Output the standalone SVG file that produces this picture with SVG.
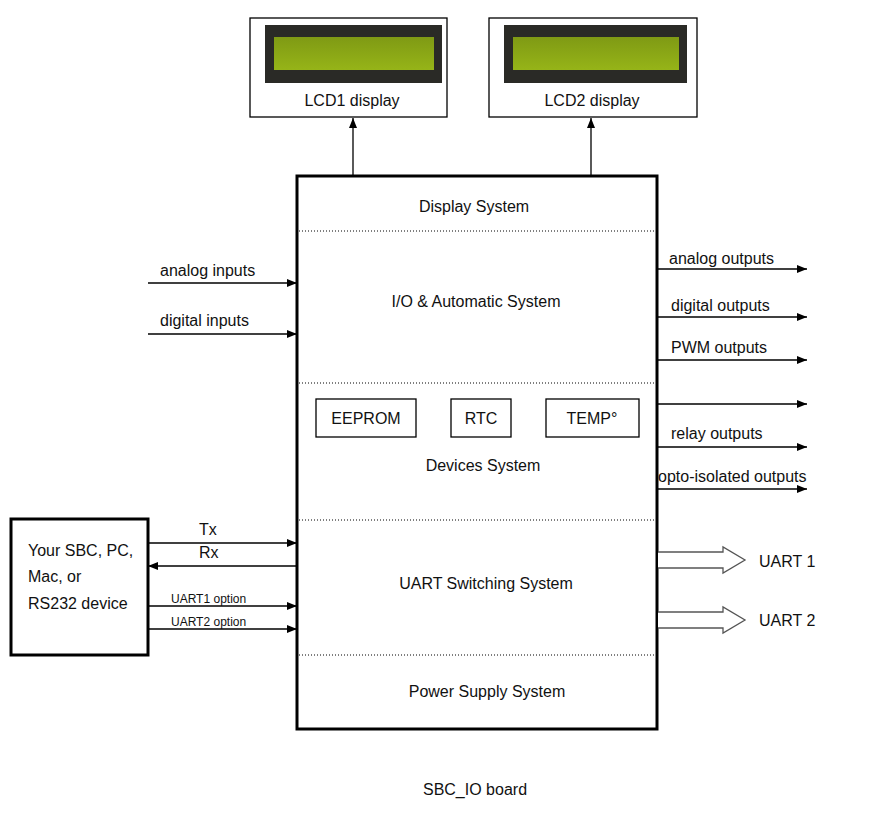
<svg xmlns="http://www.w3.org/2000/svg" width="876" height="825" viewBox="0 0 876 825">
<style>
text{font-family:"Liberation Sans",Arial,sans-serif;font-size:16px;fill:#111}
.s{font-size:12px}
.c{text-anchor:middle}
.ln{stroke:#000;stroke-width:1.3;fill:none}
.dot{stroke:#000;stroke-width:1;stroke-dasharray:1,2}
.box{fill:#fff;stroke:#000}
</style>
<defs>
<marker id="a" markerWidth="10" markerHeight="8" refX="10" refY="4" orient="auto" markerUnits="userSpaceOnUse"><path d="M0,0L10,4L0,8z" fill="#000"/></marker>
<linearGradient id="lcd" x1="0" y1="0" x2="0" y2="1"><stop offset="0" stop-color="#7f9a14"/><stop offset="1" stop-color="#96b418"/></linearGradient>
</defs>
<rect width="876" height="825" fill="#fff"/>
<g id="lcd1">
<rect class="box" x="250" y="18" width="197" height="99" stroke-width="1.3"/>
<rect x="265" y="25" width="177" height="58" fill="#2a2a26"/>
<rect x="274" y="37" width="160" height="33" fill="url(#lcd)"/>
<text class="c" x="352" y="106">LCD1 display</text>
</g>
<g id="lcd2">
<rect class="box" x="489" y="18" width="208" height="99" stroke-width="1.3"/>
<rect x="504" y="25" width="183" height="58" fill="#2a2a26"/>
<rect x="513" y="37" width="166" height="33" fill="url(#lcd)"/>
<text class="c" x="592" y="106">LCD2 display</text>
</g>
<g id="board">
<rect class="box" x="297" y="176" width="360" height="553" stroke-width="3"/>
<line class="dot" x1="299" y1="231" x2="655" y2="231"/>
<line class="dot" x1="299" y1="383" x2="655" y2="383"/>
<line class="dot" x1="299" y1="520" x2="655" y2="520"/>
<line class="dot" x1="299" y1="655" x2="655" y2="655"/>
<text class="c" x="474" y="212">Display System</text>
<text class="c" x="476" y="307">I/O &amp; Automatic  System</text>
<text class="c" x="483" y="471">Devices System</text>
<text class="c" x="486" y="589">UART Switching System</text>
<text class="c" x="487" y="697">Power Supply System</text>
</g>
<g id="eeprom"><rect class="box" x="316" y="399" width="100" height="38" stroke-width="1.3"/><text class="c" x="366" y="424">EEPROM</text></g>
<g id="rtc"><rect class="box" x="451" y="399" width="60" height="38" stroke-width="1.3"/><text class="c" x="481" y="424">RTC</text></g>
<g id="temp"><rect class="box" x="546" y="399" width="93" height="38" stroke-width="1.3"/><text class="c" x="592" y="424">TEMP°</text></g>
<g id="sbc">
<rect class="box" x="11" y="519" width="137" height="136" stroke-width="3"/>
<text x="28" y="556">Your SBC, PC,</text>
<text x="28" y="582">Mac, or</text>
<text x="28" y="609">RS232 device</text>
</g>
<g id="connectors">
<line class="ln" x1="353" y1="175" x2="353" y2="118" marker-end="url(#a)"/>
<line class="ln" x1="591" y1="175" x2="591" y2="118" marker-end="url(#a)"/>
<line class="ln" x1="148" y1="283" x2="297" y2="283" marker-end="url(#a)"/>
<line class="ln" x1="148" y1="334" x2="297" y2="334" marker-end="url(#a)"/>
<line class="ln" x1="148" y1="543" x2="297" y2="543" marker-end="url(#a)"/>
<line class="ln" x1="297" y1="566" x2="148" y2="566" marker-end="url(#a)"/>
<line class="ln" x1="148" y1="606" x2="297" y2="606" marker-end="url(#a)"/>
<line class="ln" x1="148" y1="629" x2="297" y2="629" marker-end="url(#a)"/>
<line class="ln" x1="658" y1="269" x2="807" y2="269" marker-end="url(#a)"/>
<line class="ln" x1="658" y1="317" x2="807" y2="317" marker-end="url(#a)"/>
<line class="ln" x1="658" y1="360" x2="807" y2="360" marker-end="url(#a)"/>
<line class="ln" x1="658" y1="404" x2="807" y2="404" marker-end="url(#a)"/>
<line class="ln" x1="658" y1="447" x2="807" y2="447" marker-end="url(#a)"/>
<line class="ln" x1="658" y1="489" x2="807" y2="489" marker-end="url(#a)"/>
<path d="M658,552H723V547L745,560L723,573V568H658" fill="#fff" stroke="#555" stroke-width="1.3"/>
<path d="M658,612H723V607L745,620L723,633V628H658" fill="#fff" stroke="#555" stroke-width="1.3"/>
</g>
<g id="labels">
<text x="160" y="276">analog inputs</text>
<text x="160" y="326">digital inputs</text>
<text x="199" y="535">Tx</text>
<text x="199" y="558">Rx</text>
<text class="s" x="171" y="603">UART1 option</text>
<text class="s" x="171" y="626">UART2 option</text>
<text x="669" y="264">analog outputs</text>
<text x="671" y="311">digital outputs</text>
<text x="671" y="353">PWM outputs</text>
<text x="671" y="439">relay outputs</text>
<text x="658" y="482">opto-isolated  outputs</text>
<text x="759" y="567">UART 1</text>
<text x="759" y="626">UART 2</text>
<text class="c" x="475" y="795">SBC_IO board</text>
</g>
</svg>
